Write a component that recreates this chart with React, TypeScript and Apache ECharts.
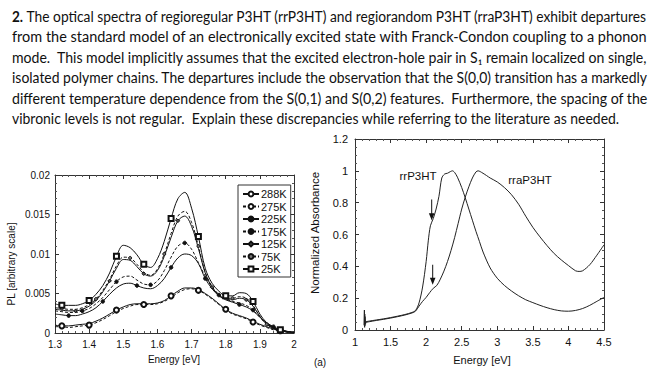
import React, { useEffect, useRef } from 'react';
import * as echarts from 'echarts';

// ---------- PL spectra (left panel) ----------
const plEnergy = [
  1.30, 1.32, 1.34, 1.36, 1.38, 1.40, 1.42, 1.44, 1.46, 1.48, 1.50, 1.52,
  1.54, 1.56, 1.58, 1.60, 1.62, 1.64, 1.66, 1.68, 1.70, 1.72, 1.74, 1.76,
  1.78, 1.80, 1.82, 1.84, 1.86, 1.88, 1.90, 1.92, 1.94, 1.96, 1.98, 2.00,
];
const pl288 = [
  0.0010, 0.0009, 0.0009, 0.0010, 0.0011, 0.0012, 0.0015, 0.0019, 0.0024, 0.0029, 0.0033, 0.0036,
  0.0037, 0.0037, 0.0037, 0.0038, 0.0041, 0.0047, 0.0053, 0.0057, 0.0057, 0.0055, 0.0050, 0.0044,
  0.0037, 0.0030, 0.0025, 0.0022, 0.0019, 0.0015, 0.0011, 0.0008, 0.0005, 0.0003, 0.0001, 0.0000,
];
const pl275 = [
  0.0008, 0.0008, 0.0007, 0.0008, 0.0009, 0.0010, 0.0013, 0.0017, 0.0022, 0.0027, 0.0031, 0.0034,
  0.0036, 0.0036, 0.0036, 0.0037, 0.0040, 0.0045, 0.0051, 0.0055, 0.0056, 0.0054, 0.0049, 0.0043,
  0.0036, 0.0029, 0.0024, 0.0021, 0.0018, 0.0014, 0.0010, 0.0007, 0.0004, 0.0002, 0.0001, 0.0000,
];
const pl225 = [
  0.0024, 0.0023, 0.0022, 0.0022, 0.0024, 0.0027, 0.0032, 0.0040, 0.0049, 0.0057, 0.0062, 0.0063,
  0.0060, 0.0057, 0.0056, 0.0060, 0.0069, 0.0083, 0.0095, 0.0100, 0.0098, 0.0088, 0.0069, 0.0056,
  0.0047, 0.0042, 0.0039, 0.0036, 0.0033, 0.0028, 0.0020, 0.0013, 0.0008, 0.0004, 0.0002, 0.0001,
];
const pl175 = [
  0.0028, 0.0027, 0.0026, 0.0026, 0.0028, 0.0031, 0.0037, 0.0045, 0.0055, 0.0065, 0.0071, 0.0072,
  0.0067, 0.0062, 0.0061, 0.0066, 0.0079, 0.0096, 0.0110, 0.0114, 0.0106, 0.0089, 0.0072, 0.0058,
  0.0048, 0.0043, 0.0040, 0.0038, 0.0035, 0.0029, 0.0020, 0.0012, 0.0007, 0.0004, 0.0002, 0.0001,
];
const pl125 = [
  0.0030, 0.0029, 0.0028, 0.0028, 0.0030, 0.0034, 0.0041, 0.0052, 0.0066, 0.0082, 0.0093, 0.0092,
  0.0084, 0.0075, 0.0072, 0.0079, 0.0097, 0.0121, 0.0142, 0.0148, 0.0135, 0.0107, 0.0076, 0.0058,
  0.0048, 0.0043, 0.0042, 0.0044, 0.0042, 0.0034, 0.0021, 0.0011, 0.0006, 0.0003, 0.0002, 0.0001,
];
const pl75 = [
  0.0032, 0.0031, 0.0030, 0.0030, 0.0032, 0.0036, 0.0043, 0.0054, 0.0068, 0.0085, 0.0096, 0.0095,
  0.0087, 0.0077, 0.0073, 0.0081, 0.0100, 0.0126, 0.0148, 0.0154, 0.0140, 0.0110, 0.0077, 0.0059,
  0.0049, 0.0044, 0.0044, 0.0046, 0.0044, 0.0035, 0.0021, 0.0011, 0.0006, 0.0003, 0.0002, 0.0001,
];
const pl25 = [
  0.0037, 0.0035, 0.0035, 0.0035, 0.0037, 0.0041, 0.0049, 0.0060, 0.0076, 0.0097, 0.0111, 0.0108,
  0.0099, 0.0087, 0.0083, 0.0094, 0.0116, 0.0145, 0.0170, 0.0178, 0.0158, 0.0122, 0.0082, 0.0063,
  0.0053, 0.0047, 0.0047, 0.0051, 0.0050, 0.0040, 0.0024, 0.0013, 0.0007, 0.0004, 0.0002, 0.0001,
];
const plSeriesNames = ['288K', '275K', '225K', '175K', '125K', '75K', '25K'];
const plValueTicks = [0, 0.005, 0.01, 0.015, 0.02];

// ---------- Absorbance (right panel) ----------
const rrEnergy = [
  1.15, 1.2, 1.3, 1.4, 1.5, 1.6, 1.7, 1.8, 1.85, 1.9, 1.95, 2.0, 2.03, 2.06, 2.1, 2.14, 2.18,
  2.22, 2.26, 2.3, 2.34, 2.37, 2.4, 2.44, 2.5, 2.55, 2.6, 2.65, 2.7, 2.75, 2.8, 2.9, 3.0, 3.1,
  3.2, 3.3, 3.4, 3.5, 3.6, 3.7, 3.8, 3.9, 4.0, 4.1, 4.2, 4.3, 4.4, 4.5,
];
const rrAbs = [
  0.052, 0.056, 0.063, 0.070, 0.078, 0.087, 0.097, 0.110, 0.122, 0.17, 0.27, 0.43, 0.56, 0.655, 0.70, 0.76, 0.84,
  0.955, 0.98, 0.985, 0.995, 1.0, 0.99, 0.96, 0.895, 0.83, 0.76, 0.69, 0.62, 0.555, 0.49, 0.39, 0.325, 0.28,
  0.245, 0.215, 0.19, 0.172, 0.155, 0.14, 0.128, 0.12, 0.118, 0.123, 0.135, 0.155, 0.18, 0.205,
];
const rraEnergy = [
  1.15, 1.2, 1.3, 1.4, 1.5, 1.6, 1.7, 1.8, 1.85, 1.9, 1.95, 2.0, 2.05, 2.1, 2.15, 2.2, 2.25, 2.3,
  2.35, 2.4, 2.45, 2.5, 2.55, 2.6, 2.65, 2.7, 2.73, 2.78, 2.85, 2.9, 3.0, 3.1, 3.2, 3.3, 3.4, 3.5,
  3.6, 3.7, 3.8, 3.9, 4.0, 4.1, 4.15, 4.2, 4.3, 4.4, 4.5,
];
const rraAbs = [
  0.048, 0.052, 0.060, 0.067, 0.075, 0.084, 0.094, 0.107, 0.118, 0.15, 0.18, 0.205, 0.235, 0.262, 0.28, 0.32, 0.37, 0.43,
  0.50, 0.58, 0.67, 0.76, 0.835, 0.9, 0.955, 0.993, 1.0, 0.99, 0.97, 0.955, 0.93, 0.895, 0.85, 0.79, 0.715, 0.645,
  0.585, 0.53, 0.48, 0.44, 0.405, 0.372, 0.368, 0.372, 0.41, 0.47, 0.535,
];
const spikeEnergy = [1.128, 1.132, 1.135, 1.138, 1.141, 1.144, 1.147, 1.15];
const spikeAbs = [0.03, 0.125, 0.015, 0.10, 0.025, 0.085, 0.035, 0.05];

// arrows marking the 0-0 shoulders: [energy, from, to]
const arrowMarks = [
  [2.078, 0.82, 0.69],
  [2.092, 0.41, 0.285],
];

// ---------- Question text ----------
const questionLines = [
  'The optical spectra of regioregular P3HT (rrP3HT) and regiorandom P3HT (rraP3HT) exhibit departures',
  'from the standard model of an electronically excited state with Franck-Condon coupling to a phonon',
  'mode.  This model implicitly assumes that the excited electron-hole pair in S\u2081 remain localized on single,',
  'isolated polymer chains. The departures include the observation that the S(0,0) transition has a markedly',
  'different temperature dependence from the S(0,1) and S(0,2) features.  Furthermore, the spacing of the',
  'vibronic levels is not regular.  Explain these discrepancies while referring to the literature as needed.',
];

const INK = '#111';
const CF = '"Liberation Sans", Arial, sans-serif';

export default function App() {
  const ref = useRef<HTMLDivElement>(null);

  useEffect(() => {
    const chart = echarts.init(ref.current!, null, { renderer: 'svg' });

    const ctx = document.createElement('canvas').getContext('2d')!;
    const PF = 'Lato';
    const PS = 14.6;
    const meas = (t: string, bold = false) => {
      ctx.font = `${bold ? 'bold ' : ''}${PS}px ${PF}`;
      return ctx.measureText(t).width;
    };
    const leftX = 12;
    const rightX = 648;
    const lastRight = 620;
    const lineY = (i: number) => 16.5 + 20.4 * i;
    const graphics: any[] = [];
    questionLines.forEach((line, i) => {
      if (i === 0) {
        const wb = meas('2.', true);
        const ws = meas(' ');
        const wr = meas(line);
        const s = (rightX - leftX - 0.93 * (wb + ws)) / wr;
        graphics.push({
          type: 'text', x: leftX, y: lineY(i), scaleX: 0.93,
          style: { text: '2.', fontFamily: PF, fontSize: PS, fontWeight: 'bold', fill: INK, verticalAlign: 'middle' },
        });
        graphics.push({
          type: 'text', x: leftX + 0.93 * (wb + ws), y: lineY(i), scaleX: s,
          style: { text: line, fontFamily: PF, fontSize: PS, fill: INK, verticalAlign: 'middle' },
        });
      } else {
        const target = (i === questionLines.length - 1 ? lastRight : rightX) - leftX;
        const s = target / meas(line);
        graphics.push({
          type: 'text', x: leftX, y: lineY(i), scaleX: s,
          style: { text: line, fontFamily: PF, fontSize: PS, fill: INK, verticalAlign: 'middle' },
        });
      }
    });

    const txt = (text: string, x: number, y: number, size: number, rot = 0) => ({
      type: 'text', x, y, rotation: rot,
      style: { text, fontFamily: CF, fontSize: size, fill: INK, align: 'center', verticalAlign: 'middle' },
    });
    graphics.push(txt('PL [arbitrary scale]', 11, 264, 10, Math.PI / 2));
    graphics.push(txt('Energy [eV]', 174, 359, 10));
    graphics.push(txt('Normalized Absorbance', 315, 233, 11.5, Math.PI / 2));
    graphics.push(txt('Energy [eV]', 482, 360, 11));
    graphics.push(txt('(a)', 320, 362, 10));
    graphics.push(txt('rrP3HT', 418, 176, 11.5));
    graphics.push(txt('rraP3HT', 530, 180, 11.5));

    const axisLine = { show: true, onZero: false, lineStyle: { color: '#333', width: 1 } };
    const tick = { show: true, inside: true, length: 4, lineStyle: { color: '#333', width: 1 } };
    const minor = (n: number) => ({ show: true, splitNumber: n, length: 2, lineStyle: { color: '#555', width: 1 } });
    const numFmt = (d: number) => (v: number) => String(Number(v.toFixed(d)));
    const lbl = (size: number, margin: number, d: number) => ({
      show: true, fontSize: size, color: INK, fontFamily: CF, margin, formatter: numFmt(d),
    });
    const noLbl = { show: false };

    const mkAxis = (grid: number, min: number, max: number, interval: number, pos: string, label: any, minorN: number) => ({
      type: 'value', gridIndex: grid, min, max, interval, position: pos,
      axisLine, axisTick: tick, minorTick: minor(minorN), axisLabel: label,
      splitLine: { show: false }, minorSplitLine: { show: false },
    });

    const plData = [pl288, pl275, pl225, pl175, pl125, pl75, pl25];
    const plStyles = [
      { dash: 'solid', symbol: 'emptyCircle', size: 5, color: INK, off: 1, step: 8 },
      { dash: [3, 2], symbol: 'emptyCircle', size: 5, color: INK, off: 5, step: 8 },
      { dash: 'solid', symbol: 'circle', size: 3.5, color: INK, off: 2, step: 5 },
      { dash: [3, 2], symbol: 'circle', size: 3.5, color: INK, off: 4, step: 5 },
      { dash: 'solid', symbol: 'diamond', size: 3.5, color: '#555', off: 3, step: 5 },
      { dash: [3, 2], symbol: 'circle', size: 3, color: '#777', off: 1, step: 5 },
      { dash: 'solid', symbol: 'emptyRect', size: 5, color: INK, off: 1, step: 4 },
    ];

    const plSeries = plSeriesNames.map((name, k) => {
      const st = plStyles[k];
      const vals = plData[k];
      const n = plEnergy.length;
      return {
        name, type: 'line', xAxisIndex: 0, yAxisIndex: 0, smooth: 0.35,
        symbol: st.symbol, showSymbol: true, showAllSymbol: true,
        symbolSize: (_v: any, p: any) =>
          ((p.dataIndex - st.off) % st.step === 0 && p.dataIndex >= st.off && p.dataIndex < n - 2) ? st.size : 0,
        lineStyle: { color: INK, width: 1, type: st.dash },
        itemStyle: { color: st.color, borderColor: INK, borderWidth: 1 },
        data: plEnergy.map((e, i) => [e, vals[i]]),
        z: 3,
      };
    });

    const option: any = {
      animation: false,
      backgroundColor: '#fff',
      grid: [
        { left: 55, top: 175, width: 239, height: 158 },
        { left: 355, top: 139, width: 249, height: 191 },
      ],
      xAxis: [
        mkAxis(0, 1.3, 2, 0.1, 'bottom', lbl(10, 6, 1), 5),
        mkAxis(0, 1.3, 2, 0.1, 'top', noLbl, 5),
        mkAxis(1, 1, 4.5, 0.5, 'bottom', lbl(11, 6, 1), 5),
        mkAxis(1, 1, 4.5, 0.5, 'top', noLbl, 5),
      ],
      yAxis: [
        mkAxis(0, plValueTicks[0], plValueTicks[plValueTicks.length - 1], 0.005, 'left', lbl(10, 5, 3), 5),
        mkAxis(0, plValueTicks[0], plValueTicks[plValueTicks.length - 1], 0.005, 'right', noLbl, 5),
        mkAxis(1, 0, 1.2, 0.2, 'left', lbl(11, 7, 1), 4),
        mkAxis(1, 0, 1.2, 0.2, 'right', noLbl, 4),
      ],
      legend: {
        data: plSeriesNames,
        orient: 'vertical',
        left: 238, top: 185,
        padding: [3, 4, 2, 4],
        itemWidth: 16, itemHeight: 6, itemGap: 0.5,
        borderColor: '#333', borderWidth: 1, backgroundColor: '#fff',
        textStyle: { fontSize: 11, fontFamily: CF, color: INK, lineHeight: 12, padding: [0, 0, 0, -3] },
        selectedMode: false,
      },
      graphic: graphics,
      series: [
        ...plSeries,
        {
          name: 'rrP3HT', type: 'line', xAxisIndex: 2, yAxisIndex: 2, smooth: 0.3, symbol: 'none',
          lineStyle: { color: '#222', width: 1 },
          data: rrEnergy.map((e, i) => [e, rrAbs[i]]),
        },
        {
          name: 'rraP3HT', type: 'line', xAxisIndex: 2, yAxisIndex: 2, smooth: 0.3, symbol: 'none',
          lineStyle: { color: '#222', width: 1 },
          data: rraEnergy.map((e, i) => [e, rraAbs[i]]),
        },
        {
          name: 'noise', type: 'line', xAxisIndex: 2, yAxisIndex: 2, symbol: 'none',
          lineStyle: { color: '#222', width: 1.2 },
          data: spikeEnergy.map((e, i) => [e, spikeAbs[i]]),
        },
      ],
    };

    chart.setOption(option);

    // arrows placed through the axis scales
    const arrowGraphics: any[] = [];
    arrowMarks.forEach(([e, from, to]) => {
      const p0 = chart.convertToPixel({ gridIndex: 1 }, [e, from]) as number[];
      const p1 = chart.convertToPixel({ gridIndex: 1 }, [e, to]) as number[];
      arrowGraphics.push({
        type: 'line',
        shape: { x1: p0[0], y1: p0[1], x2: p1[0], y2: p1[1] - 6 },
        style: { stroke: INK, lineWidth: 1 },
      });
      arrowGraphics.push({
        type: 'polygon',
        shape: { points: [[p1[0] - 2.8, p1[1] - 7], [p1[0] + 2.8, p1[1] - 7], [p1[0], p1[1]]] },
        style: { fill: INK },
      });
    });
    chart.setOption({ graphic: [...graphics, ...arrowGraphics] });

    return () => chart.dispose();
  }, []);

  return (
    <div
      ref={ref}
      style={{ position: 'fixed', left: 0, top: 0, width: 663, height: 381, background: '#fff' }}
    />
  );
}
